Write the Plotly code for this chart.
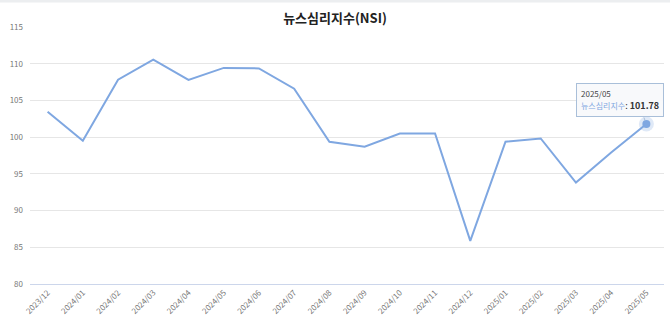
import plotly.graph_objects as go

months = ["2023/12", "2024/01", "2024/02", "2024/03", "2024/04", "2024/05",
          "2024/06", "2024/07", "2024/08", "2024/09", "2024/10", "2024/11",
          "2024/12", "2025/01", "2025/02", "2025/03", "2025/04", "2025/05"]
nsi = [103.47, 99.5, 107.83, 110.56, 107.79, 109.43,
       109.36, 106.6, 99.37, 98.69, 100.5, 100.5,
       85.87, 99.37, 99.82, 93.82, 97.9, 101.78]
series_name = "뉴스심리지수"
title_text = "뉴스심리지수(NSI)"
y_ticks = [80, 85, 90, 95, 100, 105, 110, 115]

line_color = "#7fa7e1"
tip_border = "#a9bfd9"
kr_font = "Noto Sans CJK KR"

fig = go.Figure()
fig.add_trace(go.Scatter(
    x=months, y=nsi, mode="lines", name=series_name,
    line=dict(color=line_color, width=2), hoverinfo="skip",
))
# highlighted last point with a soft halo
fig.add_trace(go.Scatter(
    x=[months[-1]], y=[nsi[-1]], mode="markers",
    marker=dict(size=15, color=line_color, opacity=0.25), hoverinfo="skip",
))
fig.add_trace(go.Scatter(
    x=[months[-1]], y=[nsi[-1]], mode="markers",
    marker=dict(size=8, color=line_color), hoverinfo="skip",
))

# tooltip box for the latest value
fig.add_annotation(
    x=months[-1], y=nsi[-1], xref="x", yref="y",
    text=(f"<span style='font-size:8px;color:#444'>{months[-1]}</span><br>"
          f"<span style='font-size:8px;color:{line_color}'>{series_name}</span>"
          f"<span style='color:#333'>: <b>{nsi[-1]:.2f}</b></span>"),
    align="left", showarrow=False, xanchor="right", yanchor="bottom",
    xshift=18, yshift=7,
    bgcolor="rgba(248,249,251,0.95)", bordercolor=tip_border, borderwidth=1,
    borderpad=4, font=dict(family=kr_font, size=9, color="#333"),
)
# tooltip pointer
fig.add_annotation(
    x=months[-1], y=nsi[-1], xref="x", yref="y", text="",
    showarrow=True, arrowhead=0, arrowwidth=1, arrowcolor=tip_border,
    ax=-3, ay=-8, standoff=4,
)

fig.update_layout(
    width=670, height=330,
    margin=dict(l=30, r=6, t=27, b=46),
    paper_bgcolor="white", plot_bgcolor="white",
    showlegend=False,
    title=dict(text=f"<b>{title_text}</b>", x=0.5, xanchor="center",
               y=0.945, yanchor="middle",
               font=dict(family=kr_font, size=13, color="#222")),
    font=dict(family=kr_font),
)
fig.update_xaxes(
    type="category", range=[-0.5, len(months) - 0.5],
    showgrid=False, zeroline=False,
    showline=True, linecolor="#ccd6eb", linewidth=1,
    tickangle=-45, ticks="", tickfont=dict(size=8, color="#777"),
)
fig.update_yaxes(
    range=[80, 115], tickvals=y_ticks, showgrid=True, gridcolor="#e6e6e6",
    gridwidth=1, zeroline=False, showline=False, ticks="",
    tickfont=dict(size=8, color="#777"), ticklabelstandoff=6,
)
# faint shadow band along the top edge
fig.add_shape(type="rect", xref="paper", yref="paper", x0=-0.05, x1=1.02,
              y0=1.095, y1=1.12, fillcolor="#eceef0", line=dict(width=0),
              layer="below")

fig.write_html("out.html")
